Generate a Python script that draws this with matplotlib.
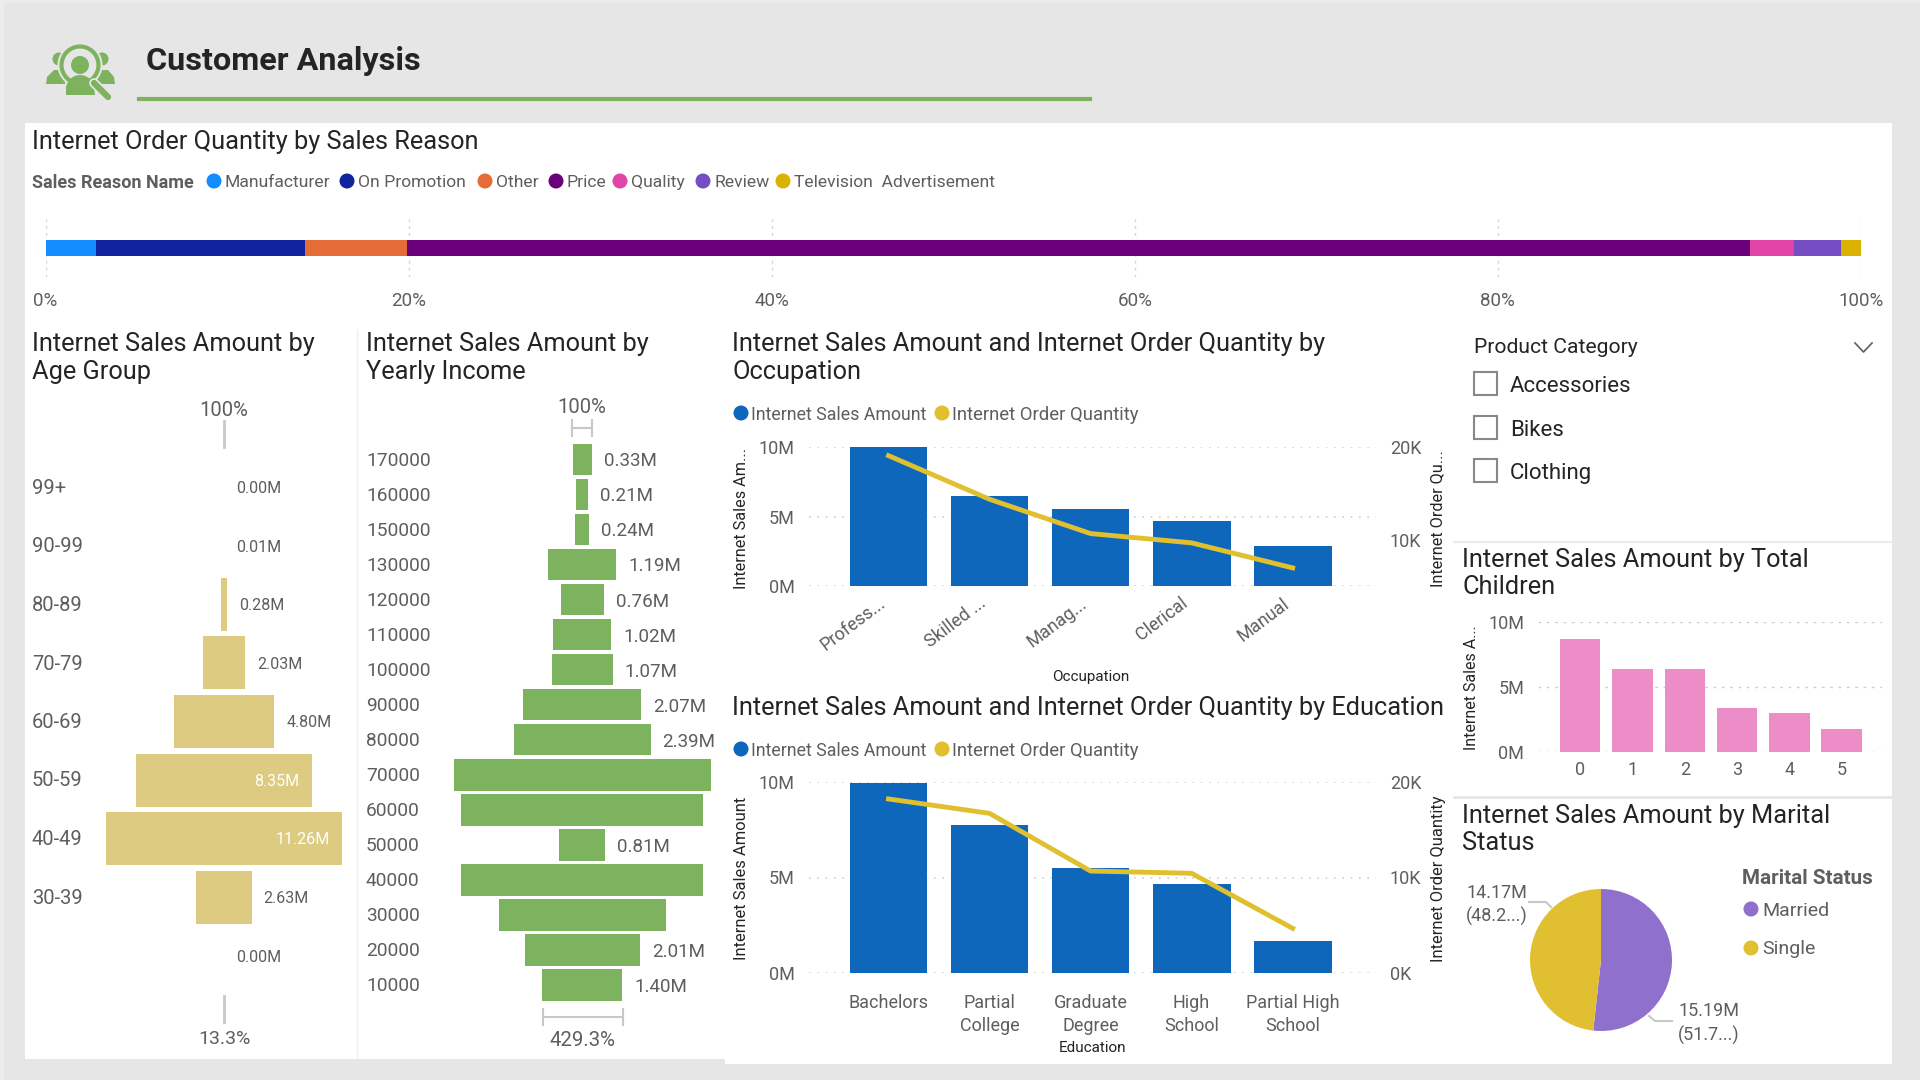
import matplotlib
matplotlib.use('Agg')
import matplotlib.pyplot as plt
from matplotlib.patches import Circle, Rectangle, Wedge, Polygon
from matplotlib.transforms import ScaledTranslation

plt.rcParams['font.family'] = ['Roboto', 'DejaVu Sans']

# data
reason_names = ['Manufacturer', 'On Promotion', 'Other', 'Price', 'Quality', 'Review', 'Television  Advertisement']
reason_share = [2.8, 11.5, 5.6, 74.0, 2.4, 2.6, 1.1]
reason_colors = ['#118DFF', '#12239E', '#E66C37', '#6B007B', '#E044A7', '#744EC2', '#D9B300']
share_ticks = [0, 20, 40, 60, 80, 100]

age_groups = ['99+', '90-99', '80-89', '70-79', '60-69', '50-59', '40-49', '30-39', '']
age_sales = [0.00, 0.01, 0.28, 2.03, 4.80, 8.35, 11.26, 2.63, 0.00]

income_groups = ['170000', '160000', '150000', '130000', '120000', '110000', '100000', '90000',
                 '80000', '70000', '60000', '50000', '40000', '30000', '20000', '10000']
income_sales = [0.33, 0.21, 0.24, 1.19, 0.76, 1.02, 1.07, 2.07, 2.39, 4.49, 4.23, 0.81, 4.23, 2.92, 2.01, 1.40]
income_hidden = ['70000', '60000', '40000', '30000']

occupations = ['Profess...', 'Skilled ...', 'Manag...', 'Clerical', 'Manual']
occ_sales = [10.0, 6.51, 5.53, 4.71, 2.86]
occ_orders = [19.1, 14.4, 10.7, 9.7, 7.0]

education = ['Bachelors', 'Partial\nCollege', 'Graduate\nDegree', 'High\nSchool', 'Partial High\nSchool']
edu_sales = [9.95, 7.76, 5.48, 4.66, 1.66]
edu_orders = [18.25, 16.74, 10.68, 10.44, 4.66]

children = ['0', '1', '2', '3', '4', '5']
child_sales = [8.67, 6.39, 6.37, 3.40, 2.97, 1.74]

marital = ['Married', 'Single']
marital_sales = [15.19, 14.17]

categories = ['Accessories', 'Bikes', 'Clothing']

GREY_BG = '#E6E6E6'
DARK = '#252423'
GREY = '#605E5C'
BLUE = '#0F67BC'
YELLOW = '#E0C02E'
GREEN = '#7DB35F'
W, H = 1920, 1080
TITLE_SIZE = 18.25

fig = plt.figure(figsize=(19.2, 10.8), dpi=100, facecolor=GREY_BG)

# overlay in pixel coords, for panels and free text
bg = fig.add_axes([0, 0, 1, 1], zorder=0)
bg.set_xlim(0, W)
bg.set_ylim(H, 0)
bg.axis('off')


def px_axes(x0, y0, x1, y1):
    a = fig.add_axes([x0 / W, 1 - y1 / H, (x1 - x0) / W, (y1 - y0) / H], zorder=2)
    a.patch.set_alpha(0)
    for s in a.spines.values():
        s.set_visible(False)
    a.tick_params(length=0)
    return a


def txt(x, y, s, size=12, color=GREY, ha='left', va='center', **kw):
    bg.text(x, y + 1.5, s, fontsize=size, color=color, ha=ha, va=va, **kw)


def title(x, y, lines):
    for i, line in enumerate(lines):
        txt(x, y + i * 28, line, size=TITLE_SIZE, color=DARK)


# white panels
bg.add_patch(Rectangle((0, 0), 4, H, fc='#ECECEC', ec='none'))
bg.add_patch(Rectangle((0, 0), W, 3, fc='#ECECEC', ec='none'))
bg.add_patch(Rectangle((25, 123), 1867, 936, fc='white', ec='none'))
bg.add_patch(Rectangle((725, 1059), 1167, 5, fc='white', ec='none'))
bg.plot([357, 357], [330, 1059], color='#F0F0F0', lw=1)
bg.plot([1454, 1892], [542, 542], color='#EAEAEA', lw=1.5)
bg.plot([1454, 1892], [797, 797], color='#E6E6E6', lw=2)

# header + icon
bg.plot([139, 1090], [99, 99], color=GREEN, lw=3)
txt(146, 59, 'Customer Analysis', size=23.3, color=DARK, fontweight='bold')
for cx, shoulder in [(59, [(46, 84), (65, 84), (65, 70), (54, 70), (47, 77)]),
                     (102, [(115, 84), (97, 84), (97, 70), (108, 70), (114, 77)])]:
    bg.add_patch(Circle((cx, 59), 6.5, fc=GREEN, ec='none'))
    bg.add_patch(Polygon(shoulder, fc=GREEN, ec='none'))
bg.add_patch(Circle((80, 65), 22.5, fc=GREY_BG, ec='none'))
bg.add_patch(Circle((80, 65), 18.5, fc='none', ec=GREEN, lw=3))
bg.add_patch(Circle((80, 65), 9, fc=GREEN, ec='none'))
bg.add_patch(Wedge((80, 89), 14, 180, 360, fc=GREEN, ec='none'))
bg.add_patch(Polygon([(66, 86), (94, 86), (95, 95), (66, 95)], fc=GREEN, ec='none'))
bg.plot([94, 108], [83, 97], color=GREY_BG, lw=7, solid_capstyle='round')
bg.plot([94, 108], [83, 97], color=GREEN, lw=4.5, solid_capstyle='round')

# stacked bar by sales reason
txt(32, 140, 'Internet Order Quantity by Sales Reason', size=TITLE_SIZE, color=DARK)
txt(32, 181, 'Sales Reason Name', size=13, color=GREY, fontweight='bold')
leg_x = [214, 347, 485, 556, 620, 703, 783]
for x, name, c in zip(leg_x, reason_names, reason_colors):
    bg.add_patch(Circle((x, 181), 7.5, fc=c, ec='none'))
    txt(x + 11, 181, name, size=12.6)

ax = px_axes(45.6, 219, 1861, 277)
ax.set_xlim(0, 100)
ax.set_ylim(-1, 1)
left = 0
for share, c in zip(reason_share, reason_colors):
    ax.barh(0, share, left=left, height=16 / 58 * 2, color=c, zorder=3)
    left += share
ax.set_yticks([])
ax.set_xticks(share_ticks)
ax.set_xticklabels([f'{t}%' for t in share_ticks], fontsize=13.5, color=GREY)
ax.tick_params(axis='x', pad=11)
ax.grid(axis='x', color='#D5D5D5', ls=(0, (2, 3)), lw=1, zorder=0)

# age funnel
title(32, 343, ['Internet Sales Amount by', 'Age Group'])
ax = px_axes(106, 458, 342, 985)
ax.set_xlim(-5.63, 5.63)
ax.set_ylim(len(age_groups) - 0.5, -0.5)
ax.axis('off')
for i, (g, v) in enumerate(zip(age_groups, age_sales)):
    ax.barh(i, v, left=-v / 2, height=0.906, color='#DCCB80')
    if v > 8:
        ax.annotate(f'{v:.2f}M', (v / 2, i), xytext=(-8.6, -1), textcoords='offset points',
                    ha='right', va='center', fontsize=11.5, color='white')
    else:
        ax.annotate(f'{v:.2f}M', (v / 2, i), xytext=(8.6, -1), textcoords='offset points',
                    ha='left', va='center', fontsize=11.5, color=GREY)
    txt(32, 487 + i * 58.5, g, size=14.5)
txt(224, 409, '100%', size=14.5, ha='center')
bg.plot([224.3, 224.3], [421, 447], color='#C8C8C8', lw=2)
bg.plot([224.3, 224.3], [996, 1022], color='#C8C8C8', lw=2)
txt(224, 1037, '13.3%', size=14, ha='center')

# income funnel
title(366, 343, ['Internet Sales Amount by', 'Yearly Income'])
ax = px_axes(453.9, 441.9, 710.7, 1002.5)
ax.set_xlim(-2.245, 2.245)
ax.set_ylim(len(income_groups) - 0.5, -0.5)
ax.axis('off')
for i, (g, v) in enumerate(zip(income_groups, income_sales)):
    ax.barh(i, v, left=-v / 2, height=0.9, color=GREEN)
    if g not in income_hidden:
        ax.annotate(f'{v:.2f}M', (v / 2, i), xytext=(8.6, -1.4), textcoords='offset points',
                    ha='left', va='center', fontsize=13.5, color=GREY, annotation_clip=False)
    txt(366, 459.4 + i * 35.03, g, size=13.8)
txt(582, 406, '100%', size=14.5, ha='center')
txt(582, 1039, '429.3%', size=14.7, ha='center')
for x0, x1, y in [(572.3, 592.3, 427.6), (542.7, 622.7, 1016.5)]:
    bg.plot([x0, x1], [y, y], color='#C8C8C8', lw=1.5)
    bg.plot([x0, x0], [y - 8, y + 8], color='#C8C8C8', lw=1.5)
    bg.plot([x1, x1], [y - 8, y + 8], color='#C8C8C8', lw=1.5)


def combo(y_top, y_bot, cats, sales, orders, right_lim, right_ticks, right_labels, rot):
    a = px_axes(808.7, y_top, 1376, y_bot)
    a.set_xlim(-0.79, 4.825)
    a.set_ylim(0, 10)
    a.bar(range(len(cats)), sales, width=0.77, color=BLUE, zorder=3)
    a.set_yticks([0, 5, 10])
    a.set_yticklabels(['0M', '5M', '10M'], fontsize=13, color=GREY)
    a.tick_params(axis='y', pad=10)
    a.grid(axis='y', color='#CFCFCF', ls=(0, (1, 4)), lw=1.2, zorder=0)
    a.set_xticks(range(len(cats)))
    if rot:
        a.set_xticklabels(cats, fontsize=13, color=GREY, rotation=rot, ha='right', rotation_mode='anchor')
        a.tick_params(axis='x', pad=6)
        shift = ScaledTranslation(-11 / 100, 0, fig.dpi_scale_trans)
        for label in a.get_xticklabels():
            label.set_transform(label.get_transform() + shift)
    else:
        a.set_xticklabels(cats, fontsize=13, color=GREY, linespacing=1.42)
        a.tick_params(axis='x', pad=15)
    b = a.twinx()
    b.patch.set_alpha(0)
    for s in b.spines.values():
        s.set_visible(False)
    b.set_ylim(*right_lim)
    b.plot(range(len(cats)), orders, color=YELLOW, lw=3.5, zorder=4)
    b.set_yticks(right_ticks)
    b.set_yticklabels(right_labels, fontsize=13, color=GREY)
    b.tick_params(axis='y', length=0, pad=10)
    return a


def combo_legend(y):
    bg.add_patch(Circle((741, y), 7.5, fc=BLUE, ec='none'))
    txt(751, y, 'Internet Sales Amount', size=12.8)
    bg.add_patch(Circle((942, y), 7.5, fc=YELLOW, ec='none'))
    txt(952, y, 'Internet Order Quantity', size=13.3)


# occupation
title(732, 343, ['Internet Sales Amount and Internet Order Quantity by', 'Occupation'])
combo_legend(413)
combo(447.3, 586, occupations, occ_sales, occ_orders, (5.05, 20), [10, 20], ['10K', '20K'], 37)
txt(741, 517, 'Internet Sales Am...', size=11.7, color=DARK, rotation=90, ha='center')
txt(1438, 517, 'Internet Order Qu...', size=11.7, color=DARK, rotation=90, ha='center')
txt(1091, 676, 'Occupation', size=11, color=DARK, ha='center')

# education
title(732, 706, ['Internet Sales Amount and Internet Order Quantity by Education'])
combo_legend(749)
combo(782.3, 972.7, education, edu_sales, edu_orders, (0, 20), [0, 10, 20], ['0K', '10K', '20K'], 0)
txt(741, 877, 'Internet Sales Amount', size=11.9, color=DARK, rotation=90, ha='center')
txt(1438, 877, 'Internet Order Quantity', size=11.9, color=DARK, rotation=90, ha='center')
txt(1092, 1046, 'Education', size=11, color=DARK, ha='center')

# slicer
txt(1474, 346, 'Product Category', size=15.2, color=DARK)
bg.plot([1855, 1863.5, 1872], [343, 352, 343], color=GREY, lw=1.2)
for y, name in zip([383.5, 427, 470.5], categories):
    bg.add_patch(Rectangle((1474, y - 11.5), 23, 23, fc='white', ec='#8A8886', lw=1.5))
    txt(1510, y + 2, name, size=16, color=DARK)

# total children
title(1462, 558, ['Internet Sales Amount by Total', 'Children'])
ax = px_axes(1538, 621.7, 1882, 752)
ax.set_xlim(-0.807, 5.77)
ax.set_ylim(0, 10)
ax.bar(range(len(children)), child_sales, width=0.775, color='#EC8DC8', zorder=3)
ax.set_yticks([0, 5, 10])
ax.set_yticklabels(['0M', '5M', '10M'], fontsize=13, color=GREY)
ax.tick_params(axis='y', pad=10)
ax.set_xticks(range(len(children)))
ax.set_xticklabels(children, fontsize=13, color=GREY)
ax.tick_params(axis='x', pad=6.5)
ax.grid(axis='y', color='#CFCFCF', ls=(0, (2, 4)), lw=1, zorder=0)
txt(1472, 686, 'Internet Sales A...', size=11.5, color=DARK, rotation=90, ha='center')

# marital status
title(1462, 814, ['Internet Sales Amount by Marital', 'Status'])
ax = px_axes(1530, 889, 1672, 1031)
ax.pie(marital_sales, colors=['#8F70CC', '#E0C030'], startangle=90, counterclock=False, radius=1,
       wedgeprops={'linewidth': 0})
ax.set_xlim(-1, 1)
ax.set_ylim(-1, 1)
txt(1466, 891, f'{marital_sales[1]:.2f}M', size=13)
txt(1466, 915, '(48.2...)', size=13)
txt(1678, 1010, f'{marital_sales[0]:.2f}M', size=13)
txt(1678, 1034, '(51.7...)', size=13)
bg.plot([1529, 1546, 1551], [902, 902, 907], color='#C8C8C8', lw=1.5)
bg.plot([1649, 1655, 1672], [1016, 1021, 1021], color='#C8C8C8', lw=1.5)
txt(1742, 877, 'Marital Status', size=14.9, color=GREY, fontweight='bold')
for y, name, c in zip([909, 948], marital, ['#8F70CC', '#E0C030']):
    bg.add_patch(Circle((1751, y), 7.5, fc=c, ec='none'))
    txt(1762, y, name, size=14)

fig.savefig('out.png', dpi=100, facecolor=fig.get_facecolor())
